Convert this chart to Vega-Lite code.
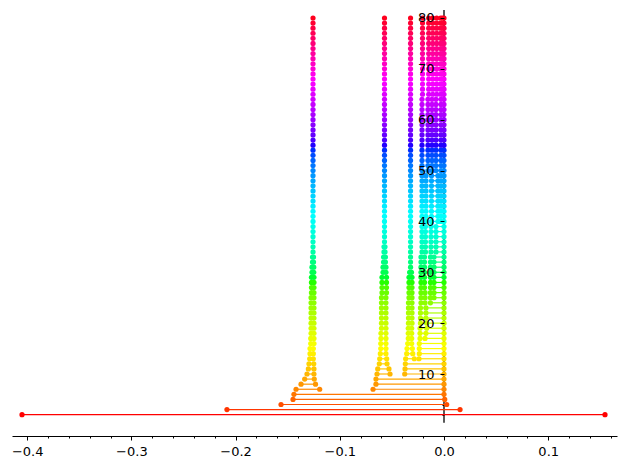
{
"$schema":"https://vega.github.io/schema/vega-lite/v6.json",
"width":605,"height":426,
"autosize":{"type":"none"},
"padding":{"left":12,"top":10,"right":10,"bottom":34},
"background":"white",
"config":{"view":{"stroke":null},"axis":{"grid":false,"title":null,"labelFont":"DejaVu Sans","labelFontSize":13,"labelColor":"black","tickColor":"black","domainColor":"black","tickWidth":1}},
"datasets":{
"spine":[{"x":0,"n":0.4,"n2":81.57}],
"roots":[
{"n":2,"s":5,"x":-0.405},{"n":2,"s":5,"x":0.1545},
{"n":3,"s":5,"x":-0.2083},{"n":3,"s":5,"x":0.0154},
{"n":4,"s":5,"x":-0.1564},{"n":4,"s":5,"x":0.0026},
{"n":5,"s":5,"x":-0.1449},{"n":5,"s":5,"x":0.0007},
{"n":6,"s":5,"x":-0.144},{"n":6,"s":5,"x":0},
{"n":7,"s":1,"x":-0.142},{"n":7,"s":1,"x":-0.1193},{"n":7,"s":5,"x":-0.0681},{"n":7,"s":5,"x":0},
{"n":8,"s":1,"x":-0.1372},{"n":8,"s":1,"x":-0.1233},{"n":8,"s":5,"x":-0.0653},{"n":8,"s":5,"x":0},
{"n":9,"s":1,"x":-0.1337},{"n":9,"s":1,"x":-0.1245},{"n":9,"s":5,"x":-0.0653},{"n":9,"s":5,"x":0},
{"n":10,"s":1,"x":-0.1315},{"n":10,"s":1,"x":-0.1248},{"n":10,"s":2,"x":-0.0643},{"n":10,"s":2,"x":-0.0518},{"n":10,"s":5,"x":-0.0377},{"n":10,"s":5,"x":0},
{"n":11,"s":1,"x":-0.1302},{"n":11,"s":1,"x":-0.1248},{"n":11,"s":2,"x":-0.0636},{"n":11,"s":2,"x":-0.0528},{"n":11,"s":5,"x":-0.0374},{"n":11,"s":5,"x":0},
{"n":12,"s":1,"x":-0.1296},{"n":12,"s":1,"x":-0.125},{"n":12,"s":2,"x":-0.0621},{"n":12,"s":2,"x":-0.0547},{"n":12,"s":5,"x":-0.0371},{"n":12,"s":5,"x":0},
{"n":13,"s":1,"x":-0.1289},{"n":13,"s":1,"x":-0.1254},{"n":13,"s":2,"x":-0.0617},{"n":13,"s":2,"x":-0.055},{"n":13,"s":3,"x":-0.0368},{"n":13,"s":3,"x":-0.0285},{"n":13,"s":5,"x":-0.024},{"n":13,"s":5,"x":0},
{"n":14,"s":1,"x":-0.1286},{"n":14,"s":1,"x":-0.1254},{"n":14,"s":2,"x":-0.0611},{"n":14,"s":2,"x":-0.0557},{"n":14,"s":3,"x":-0.0358},{"n":14,"s":3,"x":-0.03},{"n":14,"s":5,"x":-0.0237},{"n":14,"s":5,"x":0},
{"n":15,"s":1,"x":-0.1286},{"n":15,"s":1,"x":-0.1254},{"n":15,"s":2,"x":-0.0607},{"n":15,"s":2,"x":-0.0557},{"n":15,"s":3,"x":-0.0355},{"n":15,"s":3,"x":-0.0304},{"n":15,"s":5,"x":-0.0237},{"n":15,"s":5,"x":0},
{"n":16,"s":1,"x":-0.1279},{"n":16,"s":1,"x":-0.1248},{"n":16,"s":2,"x":-0.0607},{"n":16,"s":2,"x":-0.0557},{"n":16,"s":3,"x":-0.0348},{"n":16,"s":3,"x":-0.031},{"n":16,"s":5,"x":-0.0237},{"n":16,"s":5,"x":0},
{"n":17,"s":1,"x":-0.1279},{"n":17,"s":1,"x":-0.1248},{"n":17,"s":2,"x":-0.0605},{"n":17,"s":2,"x":-0.0557},{"n":17,"s":3,"x":-0.0343},{"n":17,"s":3,"x":-0.031},{"n":17,"s":5,"x":-0.023},{"n":17,"s":5,"x":-0.0182},{"n":17,"s":5,"x":0},
{"n":18,"s":1,"x":-0.1276},{"n":18,"s":1,"x":-0.1248},{"n":18,"s":2,"x":-0.0605},{"n":18,"s":2,"x":-0.0557},{"n":18,"s":3,"x":-0.0343},{"n":18,"s":3,"x":-0.031},{"n":18,"s":5,"x":-0.023},{"n":18,"s":5,"x":-0.0173},{"n":18,"s":5,"x":0},
{"n":19,"s":1,"x":-0.1276},{"n":19,"s":1,"x":-0.1248},{"n":19,"s":2,"x":-0.06},{"n":19,"s":2,"x":-0.0557},{"n":19,"s":3,"x":-0.0343},{"n":19,"s":3,"x":-0.031},{"n":19,"s":5,"x":-0.023},{"n":19,"s":5,"x":-0.0166},{"n":19,"s":5,"x":0},
{"n":20,"s":1,"x":-0.1276},{"n":20,"s":1,"x":-0.1248},{"n":20,"s":2,"x":-0.06},{"n":20,"s":2,"x":-0.0557},{"n":20,"s":3,"x":-0.0341},{"n":20,"s":3,"x":-0.0307},{"n":20,"s":5,"x":-0.0226},{"n":20,"s":5,"x":-0.0166},{"n":20,"s":5,"x":0},
{"n":21,"s":1,"x":-0.1276},{"n":21,"s":1,"x":-0.1248},{"n":21,"s":2,"x":-0.06},{"n":21,"s":2,"x":-0.0557},{"n":21,"s":3,"x":-0.0341},{"n":21,"s":3,"x":-0.0307},{"n":21,"s":5,"x":-0.0226},{"n":21,"s":5,"x":-0.0173},{"n":21,"s":5,"x":0},
{"n":22,"s":1,"x":-0.1276},{"n":22,"s":1,"x":-0.1248},{"n":22,"s":2,"x":-0.06},{"n":22,"s":2,"x":-0.0557},{"n":22,"s":3,"x":-0.0341},{"n":22,"s":3,"x":-0.0307},{"n":22,"s":5,"x":-0.0226},{"n":22,"s":5,"x":-0.0173},{"n":22,"s":5,"x":0},
{"n":23,"s":1,"x":-0.1276},{"n":23,"s":1,"x":-0.1248},{"n":23,"s":2,"x":-0.06},{"n":23,"s":2,"x":-0.0557},{"n":23,"s":3,"x":-0.0341},{"n":23,"s":3,"x":-0.0307},{"n":23,"s":5,"x":-0.0226},{"n":23,"s":5,"x":-0.0173},{"n":23,"s":5,"x":0},
{"n":24,"s":1,"x":-0.1276},{"n":24,"s":1,"x":-0.1248},{"n":24,"s":2,"x":-0.06},{"n":24,"s":2,"x":-0.0557},{"n":24,"s":3,"x":-0.0341},{"n":24,"s":3,"x":-0.0307},{"n":24,"s":4,"x":-0.0221},{"n":24,"s":4,"x":-0.0182},{"n":24,"s":5,"x":-0.013},{"n":24,"s":5,"x":0},
{"n":25,"s":1,"x":-0.1276},{"n":25,"s":1,"x":-0.1248},{"n":25,"s":2,"x":-0.06},{"n":25,"s":2,"x":-0.0557},{"n":25,"s":3,"x":-0.0336},{"n":25,"s":3,"x":-0.0307},{"n":25,"s":4,"x":-0.0221},{"n":25,"s":4,"x":-0.0182},{"n":25,"s":5,"x":-0.013},{"n":25,"s":5,"x":-0.0096},{"n":25,"s":5,"x":0},
{"n":26,"s":1,"x":-0.1272},{"n":26,"s":1,"x":-0.1248},{"n":26,"s":2,"x":-0.0595},{"n":26,"s":2,"x":-0.0552},{"n":26,"s":3,"x":-0.0336},{"n":26,"s":3,"x":-0.0307},{"n":26,"s":4,"x":-0.0221},{"n":26,"s":4,"x":-0.0182},{"n":26,"s":5,"x":-0.013},{"n":26,"s":5,"x":-0.0096},{"n":26,"s":5,"x":0},
{"n":27,"s":1,"x":-0.1272},{"n":27,"s":1,"x":-0.1248},{"n":27,"s":2,"x":-0.0595},{"n":27,"s":2,"x":-0.0552},{"n":27,"s":3,"x":-0.0336},{"n":27,"s":3,"x":-0.0307},{"n":27,"s":4,"x":-0.0221},{"n":27,"s":4,"x":-0.0187},{"n":27,"s":5,"x":-0.013},{"n":27,"s":5,"x":-0.0096},{"n":27,"s":5,"x":0},
{"n":28,"s":1,"x":-0.1272},{"n":28,"s":1,"x":-0.1248},{"n":28,"s":2,"x":-0.0595},{"n":28,"s":2,"x":-0.0552},{"n":28,"s":3,"x":-0.0336},{"n":28,"s":3,"x":-0.0307},{"n":28,"s":4,"x":-0.0221},{"n":28,"s":4,"x":-0.0187},{"n":28,"s":5,"x":-0.013},{"n":28,"s":5,"x":-0.0096},{"n":28,"s":5,"x":0},
{"n":29,"s":1,"x":-0.1272},{"n":29,"s":1,"x":-0.1248},{"n":29,"s":2,"x":-0.0595},{"n":29,"s":2,"x":-0.0552},{"n":29,"s":3,"x":-0.0336},{"n":29,"s":3,"x":-0.0307},{"n":29,"s":4,"x":-0.0221},{"n":29,"s":4,"x":-0.0187},{"n":29,"s":5,"x":-0.013},{"n":29,"s":5,"x":-0.0096},{"n":29,"s":5,"x":0},
{"n":30,"s":1,"x":-0.1267},{"n":30,"s":1,"x":-0.125},{"n":30,"s":2,"x":-0.0585},{"n":30,"s":2,"x":-0.0557},{"n":30,"s":3,"x":-0.033},{"n":30,"s":3,"x":-0.0312},{"n":30,"s":4,"x":-0.0221},{"n":30,"s":4,"x":-0.0187},{"n":30,"s":5,"x":-0.013},{"n":30,"s":5,"x":-0.0096},{"n":30,"s":5,"x":0},
{"n":31,"s":1,"x":-0.1267},{"n":31,"s":1,"x":-0.125},{"n":31,"s":2,"x":-0.0585},{"n":31,"s":2,"x":-0.0557},{"n":31,"s":3,"x":-0.0321},{"n":31,"s":4,"x":-0.0221},{"n":31,"s":4,"x":-0.0187},{"n":31,"s":5,"x":-0.013},{"n":31,"s":5,"x":-0.0096},{"n":31,"s":5,"x":0},
{"n":32,"s":1,"x":-0.1262},{"n":32,"s":1,"x":-0.1252},{"n":32,"s":2,"x":-0.058},{"n":32,"s":2,"x":-0.0562},{"n":32,"s":3,"x":-0.0321},{"n":32,"s":4,"x":-0.0221},{"n":32,"s":4,"x":-0.0187},{"n":32,"s":5,"x":-0.013},{"n":32,"s":5,"x":-0.0096},{"n":32,"s":5,"x":0},
{"n":33,"s":1,"x":-0.1262},{"n":33,"s":1,"x":-0.1252},{"n":33,"s":2,"x":-0.058},{"n":33,"s":2,"x":-0.0562},{"n":33,"s":3,"x":-0.0321},{"n":33,"s":4,"x":-0.0221},{"n":33,"s":4,"x":-0.0187},{"n":33,"s":5,"x":-0.013},{"n":33,"s":5,"x":-0.0096},{"n":33,"s":5,"x":0},
{"n":34,"s":1,"x":-0.1257},{"n":34,"s":2,"x":-0.0576},{"n":34,"s":2,"x":-0.0566},{"n":34,"s":3,"x":-0.0321},{"n":34,"s":4,"x":-0.0211},{"n":34,"s":4,"x":-0.0178},{"n":34,"s":5,"x":-0.0125},{"n":34,"s":5,"x":-0.0077},{"n":34,"s":5,"x":0},
{"n":35,"s":1,"x":-0.1257},{"n":35,"s":2,"x":-0.0576},{"n":35,"s":2,"x":-0.0566},{"n":35,"s":3,"x":-0.0321},{"n":35,"s":4,"x":-0.0211},{"n":35,"s":4,"x":-0.0178},{"n":35,"s":5,"x":-0.0125},{"n":35,"s":5,"x":-0.0077},{"n":35,"s":5,"x":0},
{"n":36,"s":1,"x":-0.1257},{"n":36,"s":2,"x":-0.0571},{"n":36,"s":3,"x":-0.0321},{"n":36,"s":4,"x":-0.0211},{"n":36,"s":4,"x":-0.0178},{"n":36,"s":5,"x":-0.0125},{"n":36,"s":5,"x":-0.0077},{"n":36,"s":5,"x":0},
{"n":37,"s":1,"x":-0.1257},{"n":37,"s":2,"x":-0.0571},{"n":37,"s":3,"x":-0.0321},{"n":37,"s":4,"x":-0.0211},{"n":37,"s":4,"x":-0.0178},{"n":37,"s":5,"x":-0.0125},{"n":37,"s":5,"x":-0.0077},{"n":37,"s":5,"x":0},
{"n":38,"s":1,"x":-0.1257},{"n":38,"s":2,"x":-0.0571},{"n":38,"s":3,"x":-0.0321},{"n":38,"s":4,"x":-0.0211},{"n":38,"s":4,"x":-0.0178},{"n":38,"s":5,"x":-0.0125},{"n":38,"s":5,"x":-0.0077},{"n":38,"s":5,"x":0},
{"n":39,"s":1,"x":-0.1257},{"n":39,"s":2,"x":-0.0571},{"n":39,"s":3,"x":-0.0321},{"n":39,"s":4,"x":-0.0211},{"n":39,"s":4,"x":-0.0178},{"n":39,"s":5,"x":-0.0125},{"n":39,"s":5,"x":-0.0077},{"n":39,"s":5,"x":0},
{"n":40,"s":1,"x":-0.1257},{"n":40,"s":2,"x":-0.0571},{"n":40,"s":3,"x":-0.0321},{"n":40,"s":4,"x":-0.0211},{"n":40,"s":4,"x":-0.0173},{"n":40,"s":5,"x":-0.012},{"n":40,"s":5,"x":-0.0058},{"n":40,"s":5,"x":-0.0029},{"n":40,"s":5,"x":0},
{"n":41,"s":1,"x":-0.1257},{"n":41,"s":2,"x":-0.0571},{"n":41,"s":3,"x":-0.0321},{"n":41,"s":4,"x":-0.0211},{"n":41,"s":4,"x":-0.0173},{"n":41,"s":5,"x":-0.012},{"n":41,"s":5,"x":-0.0058},{"n":41,"s":5,"x":-0.0029},{"n":41,"s":5,"x":0},
{"n":42,"s":1,"x":-0.1257},{"n":42,"s":2,"x":-0.0571},{"n":42,"s":3,"x":-0.0321},{"n":42,"s":4,"x":-0.0211},{"n":42,"s":4,"x":-0.0173},{"n":42,"s":5,"x":-0.012},{"n":42,"s":5,"x":-0.0058},{"n":42,"s":5,"x":-0.0029},{"n":42,"s":5,"x":0},
{"n":43,"s":1,"x":-0.1257},{"n":43,"s":2,"x":-0.0571},{"n":43,"s":3,"x":-0.0321},{"n":43,"s":4,"x":-0.0211},{"n":43,"s":4,"x":-0.0173},{"n":43,"s":5,"x":-0.012},{"n":43,"s":5,"x":-0.0058},{"n":43,"s":5,"x":-0.0029},{"n":43,"s":5,"x":0},
{"n":44,"s":1,"x":-0.1257},{"n":44,"s":2,"x":-0.0571},{"n":44,"s":3,"x":-0.0321},{"n":44,"s":4,"x":-0.0211},{"n":44,"s":4,"x":-0.0173},{"n":44,"s":5,"x":-0.012},{"n":44,"s":5,"x":-0.0058},{"n":44,"s":5,"x":-0.0029},{"n":44,"s":5,"x":0},
{"n":45,"s":1,"x":-0.1257},{"n":45,"s":2,"x":-0.0571},{"n":45,"s":3,"x":-0.0321},{"n":45,"s":4,"x":-0.0211},{"n":45,"s":4,"x":-0.0173},{"n":45,"s":5,"x":-0.012},{"n":45,"s":5,"x":-0.0058},{"n":45,"s":5,"x":-0.0029},{"n":45,"s":5,"x":0},
{"n":46,"s":1,"x":-0.1257},{"n":46,"s":2,"x":-0.0571},{"n":46,"s":3,"x":-0.0321},{"n":46,"s":4,"x":-0.0211},{"n":46,"s":4,"x":-0.0173},{"n":46,"s":5,"x":-0.012},{"n":46,"s":5,"x":-0.0058},{"n":46,"s":5,"x":-0.0029},{"n":46,"s":5,"x":0},
{"n":47,"s":1,"x":-0.1257},{"n":47,"s":2,"x":-0.0571},{"n":47,"s":3,"x":-0.0321},{"n":47,"s":4,"x":-0.0211},{"n":47,"s":4,"x":-0.0173},{"n":47,"s":5,"x":-0.012},{"n":47,"s":5,"x":-0.0058},{"n":47,"s":5,"x":-0.0029},{"n":47,"s":5,"x":0},
{"n":48,"s":1,"x":-0.1257},{"n":48,"s":2,"x":-0.0571},{"n":48,"s":3,"x":-0.0321},{"n":48,"s":4,"x":-0.0211},{"n":48,"s":4,"x":-0.0173},{"n":48,"s":5,"x":-0.012},{"n":48,"s":5,"x":-0.0058},{"n":48,"s":5,"x":-0.0029},{"n":48,"s":5,"x":0},
{"n":49,"s":1,"x":-0.1257},{"n":49,"s":2,"x":-0.0571},{"n":49,"s":3,"x":-0.0321},{"n":49,"s":4,"x":-0.0211},{"n":49,"s":4,"x":-0.0173},{"n":49,"s":5,"x":-0.012},{"n":49,"s":5,"x":-0.0058},{"n":49,"s":5,"x":-0.0029},{"n":49,"s":5,"x":0},
{"n":50,"s":1,"x":-0.1257},{"n":50,"s":2,"x":-0.0571},{"n":50,"s":3,"x":-0.0321},{"n":50,"s":4,"x":-0.0211},{"n":50,"s":5,"x":-0.0154},{"n":50,"s":5,"x":-0.0115},{"n":50,"s":5,"x":-0.0077},{"n":50,"s":5,"x":-0.0029},{"n":50,"s":5,"x":0},
{"n":51,"s":1,"x":-0.1257},{"n":51,"s":2,"x":-0.0571},{"n":51,"s":3,"x":-0.0321},{"n":51,"s":4,"x":-0.0211},{"n":51,"s":5,"x":-0.0154},{"n":51,"s":5,"x":-0.0115},{"n":51,"s":5,"x":-0.0077},{"n":51,"s":5,"x":-0.0029},{"n":51,"s":5,"x":0},
{"n":52,"s":1,"x":-0.1257},{"n":52,"s":2,"x":-0.0571},{"n":52,"s":3,"x":-0.0321},{"n":52,"s":4,"x":-0.0211},{"n":52,"s":5,"x":-0.0154},{"n":52,"s":5,"x":-0.0115},{"n":52,"s":5,"x":-0.0077},{"n":52,"s":5,"x":-0.0029},{"n":52,"s":5,"x":0},
{"n":53,"s":1,"x":-0.1257},{"n":53,"s":2,"x":-0.0571},{"n":53,"s":3,"x":-0.0321},{"n":53,"s":4,"x":-0.0211},{"n":53,"s":5,"x":-0.0154},{"n":53,"s":5,"x":-0.0115},{"n":53,"s":5,"x":-0.0077},{"n":53,"s":5,"x":-0.0029},{"n":53,"s":5,"x":0},
{"n":54,"s":1,"x":-0.1257},{"n":54,"s":2,"x":-0.0571},{"n":54,"s":3,"x":-0.0321},{"n":54,"s":4,"x":-0.0211},{"n":54,"s":5,"x":-0.0154},{"n":54,"s":5,"x":-0.0115},{"n":54,"s":5,"x":-0.0077},{"n":54,"s":5,"x":-0.0029},{"n":54,"s":5,"x":0},
{"n":55,"s":1,"x":-0.1257},{"n":55,"s":2,"x":-0.0571},{"n":55,"s":3,"x":-0.0321},{"n":55,"s":4,"x":-0.0211},{"n":55,"s":5,"x":-0.0154},{"n":55,"s":5,"x":-0.0115},{"n":55,"s":5,"x":-0.0077},{"n":55,"s":5,"x":-0.0029},{"n":55,"s":5,"x":0},
{"n":56,"s":1,"x":-0.1257},{"n":56,"s":2,"x":-0.0571},{"n":56,"s":3,"x":-0.0321},{"n":56,"s":4,"x":-0.0211},{"n":56,"s":5,"x":-0.0154},{"n":56,"s":5,"x":-0.0115},{"n":56,"s":5,"x":-0.0077},{"n":56,"s":5,"x":-0.0029},{"n":56,"s":5,"x":0},
{"n":57,"s":1,"x":-0.1257},{"n":57,"s":2,"x":-0.0571},{"n":57,"s":3,"x":-0.0321},{"n":57,"s":4,"x":-0.0211},{"n":57,"s":5,"x":-0.0154},{"n":57,"s":5,"x":-0.0115},{"n":57,"s":5,"x":-0.0077},{"n":57,"s":5,"x":-0.0029},{"n":57,"s":5,"x":0},
{"n":58,"s":1,"x":-0.1257},{"n":58,"s":2,"x":-0.0571},{"n":58,"s":3,"x":-0.0321},{"n":58,"s":4,"x":-0.0211},{"n":58,"s":5,"x":-0.0154},{"n":58,"s":5,"x":-0.0115},{"n":58,"s":5,"x":-0.0077},{"n":58,"s":5,"x":-0.0029},{"n":58,"s":5,"x":0},
{"n":59,"s":1,"x":-0.1257},{"n":59,"s":2,"x":-0.0571},{"n":59,"s":3,"x":-0.0321},{"n":59,"s":4,"x":-0.0211},{"n":59,"s":5,"x":-0.0154},{"n":59,"s":5,"x":-0.0115},{"n":59,"s":5,"x":-0.0077},{"n":59,"s":5,"x":-0.0029},{"n":59,"s":5,"x":0},
{"n":60,"s":1,"x":-0.1257},{"n":60,"s":2,"x":-0.0571},{"n":60,"s":3,"x":-0.0321},{"n":60,"s":4,"x":-0.0211},{"n":60,"s":5,"x":-0.0154},{"n":60,"s":5,"x":-0.0115},{"n":60,"s":5,"x":-0.0077},{"n":60,"s":5,"x":-0.0029},{"n":60,"s":5,"x":0},
{"n":61,"s":1,"x":-0.1257},{"n":61,"s":2,"x":-0.0571},{"n":61,"s":3,"x":-0.0321},{"n":61,"s":4,"x":-0.0211},{"n":61,"s":5,"x":-0.0154},{"n":61,"s":5,"x":-0.0115},{"n":61,"s":5,"x":-0.0077},{"n":61,"s":5,"x":-0.0029},{"n":61,"s":5,"x":0},
{"n":62,"s":1,"x":-0.1257},{"n":62,"s":2,"x":-0.0571},{"n":62,"s":3,"x":-0.0321},{"n":62,"s":4,"x":-0.0211},{"n":62,"s":5,"x":-0.0154},{"n":62,"s":5,"x":-0.0115},{"n":62,"s":5,"x":-0.0077},{"n":62,"s":5,"x":-0.0029},{"n":62,"s":5,"x":0},
{"n":63,"s":1,"x":-0.1257},{"n":63,"s":2,"x":-0.0571},{"n":63,"s":3,"x":-0.0321},{"n":63,"s":4,"x":-0.0211},{"n":63,"s":5,"x":-0.0154},{"n":63,"s":5,"x":-0.0115},{"n":63,"s":5,"x":-0.0077},{"n":63,"s":5,"x":-0.0029},{"n":63,"s":5,"x":0},
{"n":64,"s":1,"x":-0.1257},{"n":64,"s":2,"x":-0.0571},{"n":64,"s":3,"x":-0.0321},{"n":64,"s":4,"x":-0.0211},{"n":64,"s":5,"x":-0.0154},{"n":64,"s":5,"x":-0.0115},{"n":64,"s":5,"x":-0.0077},{"n":64,"s":5,"x":-0.0029},{"n":64,"s":5,"x":0},
{"n":65,"s":1,"x":-0.1257},{"n":65,"s":2,"x":-0.0571},{"n":65,"s":3,"x":-0.0321},{"n":65,"s":4,"x":-0.0206},{"n":65,"s":5,"x":-0.0147},{"n":65,"s":5,"x":-0.0108},{"n":65,"s":5,"x":-0.007},{"n":65,"s":5,"x":-0.0032},{"n":65,"s":5,"x":-0.0014},{"n":65,"s":5,"x":0},
{"n":66,"s":1,"x":-0.1257},{"n":66,"s":2,"x":-0.0571},{"n":66,"s":3,"x":-0.0321},{"n":66,"s":4,"x":-0.0206},{"n":66,"s":5,"x":-0.0147},{"n":66,"s":5,"x":-0.0108},{"n":66,"s":5,"x":-0.007},{"n":66,"s":5,"x":-0.0032},{"n":66,"s":5,"x":-0.0014},{"n":66,"s":5,"x":0},
{"n":67,"s":1,"x":-0.1257},{"n":67,"s":2,"x":-0.0571},{"n":67,"s":3,"x":-0.0321},{"n":67,"s":4,"x":-0.0206},{"n":67,"s":5,"x":-0.0147},{"n":67,"s":5,"x":-0.0108},{"n":67,"s":5,"x":-0.007},{"n":67,"s":5,"x":-0.0032},{"n":67,"s":5,"x":-0.0014},{"n":67,"s":5,"x":0},
{"n":68,"s":1,"x":-0.1257},{"n":68,"s":2,"x":-0.0571},{"n":68,"s":3,"x":-0.0321},{"n":68,"s":4,"x":-0.0206},{"n":68,"s":5,"x":-0.0147},{"n":68,"s":5,"x":-0.0108},{"n":68,"s":5,"x":-0.007},{"n":68,"s":5,"x":-0.0032},{"n":68,"s":5,"x":-0.0014},{"n":68,"s":5,"x":0},
{"n":69,"s":1,"x":-0.1257},{"n":69,"s":2,"x":-0.0571},{"n":69,"s":3,"x":-0.0321},{"n":69,"s":4,"x":-0.0206},{"n":69,"s":5,"x":-0.0147},{"n":69,"s":5,"x":-0.0108},{"n":69,"s":5,"x":-0.007},{"n":69,"s":5,"x":-0.0032},{"n":69,"s":5,"x":-0.0014},{"n":69,"s":5,"x":0},
{"n":70,"s":1,"x":-0.1257},{"n":70,"s":2,"x":-0.0571},{"n":70,"s":3,"x":-0.0321},{"n":70,"s":4,"x":-0.0206},{"n":70,"s":5,"x":-0.0147},{"n":70,"s":5,"x":-0.0108},{"n":70,"s":5,"x":-0.007},{"n":70,"s":5,"x":-0.0032},{"n":70,"s":5,"x":-0.0014},{"n":70,"s":5,"x":0},
{"n":71,"s":1,"x":-0.1257},{"n":71,"s":2,"x":-0.0571},{"n":71,"s":3,"x":-0.0321},{"n":71,"s":4,"x":-0.0206},{"n":71,"s":5,"x":-0.0147},{"n":71,"s":5,"x":-0.0108},{"n":71,"s":5,"x":-0.007},{"n":71,"s":5,"x":-0.0032},{"n":71,"s":5,"x":-0.0014},{"n":71,"s":5,"x":0},
{"n":72,"s":1,"x":-0.1257},{"n":72,"s":2,"x":-0.0571},{"n":72,"s":3,"x":-0.0321},{"n":72,"s":4,"x":-0.0206},{"n":72,"s":5,"x":-0.0147},{"n":72,"s":5,"x":-0.0108},{"n":72,"s":5,"x":-0.007},{"n":72,"s":5,"x":-0.0032},{"n":72,"s":5,"x":-0.0014},{"n":72,"s":5,"x":0},
{"n":73,"s":1,"x":-0.1257},{"n":73,"s":2,"x":-0.0571},{"n":73,"s":3,"x":-0.0321},{"n":73,"s":4,"x":-0.0206},{"n":73,"s":5,"x":-0.0147},{"n":73,"s":5,"x":-0.0108},{"n":73,"s":5,"x":-0.007},{"n":73,"s":5,"x":-0.0032},{"n":73,"s":5,"x":-0.0014},{"n":73,"s":5,"x":0},
{"n":74,"s":1,"x":-0.1257},{"n":74,"s":2,"x":-0.0571},{"n":74,"s":3,"x":-0.0321},{"n":74,"s":4,"x":-0.0206},{"n":74,"s":5,"x":-0.0147},{"n":74,"s":5,"x":-0.0108},{"n":74,"s":5,"x":-0.007},{"n":74,"s":5,"x":-0.0032},{"n":74,"s":5,"x":-0.0014},{"n":74,"s":5,"x":0},
{"n":75,"s":1,"x":-0.1257},{"n":75,"s":2,"x":-0.0571},{"n":75,"s":3,"x":-0.0321},{"n":75,"s":4,"x":-0.0206},{"n":75,"s":5,"x":-0.0147},{"n":75,"s":5,"x":-0.0108},{"n":75,"s":5,"x":-0.007},{"n":75,"s":5,"x":-0.0032},{"n":75,"s":5,"x":-0.0014},{"n":75,"s":5,"x":0},
{"n":76,"s":1,"x":-0.1257},{"n":76,"s":2,"x":-0.0571},{"n":76,"s":3,"x":-0.0321},{"n":76,"s":4,"x":-0.0206},{"n":76,"s":5,"x":-0.0147},{"n":76,"s":5,"x":-0.0108},{"n":76,"s":5,"x":-0.007},{"n":76,"s":5,"x":-0.0032},{"n":76,"s":5,"x":-0.0014},{"n":76,"s":5,"x":0},
{"n":77,"s":1,"x":-0.1257},{"n":77,"s":2,"x":-0.0571},{"n":77,"s":3,"x":-0.0321},{"n":77,"s":4,"x":-0.0206},{"n":77,"s":5,"x":-0.0147},{"n":77,"s":5,"x":-0.0108},{"n":77,"s":5,"x":-0.007},{"n":77,"s":5,"x":-0.0032},{"n":77,"s":5,"x":-0.0014},{"n":77,"s":5,"x":0},
{"n":78,"s":1,"x":-0.1257},{"n":78,"s":2,"x":-0.0571},{"n":78,"s":3,"x":-0.0321},{"n":78,"s":4,"x":-0.0206},{"n":78,"s":5,"x":-0.0147},{"n":78,"s":5,"x":-0.0108},{"n":78,"s":5,"x":-0.007},{"n":78,"s":5,"x":-0.0032},{"n":78,"s":5,"x":-0.0014},{"n":78,"s":5,"x":0},
{"n":79,"s":1,"x":-0.1257},{"n":79,"s":2,"x":-0.0571},{"n":79,"s":3,"x":-0.0321},{"n":79,"s":4,"x":-0.0206},{"n":79,"s":5,"x":-0.0147},{"n":79,"s":5,"x":-0.0108},{"n":79,"s":5,"x":-0.007},{"n":79,"s":5,"x":-0.0032},{"n":79,"s":5,"x":-0.0014},{"n":79,"s":5,"x":0},
{"n":80,"s":1,"x":-0.1257},{"n":80,"s":2,"x":-0.0571},{"n":80,"s":3,"x":-0.0321},{"n":80,"s":4,"x":-0.0206},{"n":80,"s":5,"x":-0.0147},{"n":80,"s":5,"x":-0.0108},{"n":80,"s":5,"x":-0.007},{"n":80,"s":5,"x":-0.0032},{"n":80,"s":5,"x":-0.0014},{"n":80,"s":5,"x":0}
]},
"resolve":{"axis":{"x":"independent","y":"independent"}},
"layer":[
{"data":{"name":"spine"},
 "mark":{"type":"rule","color":"black","strokeWidth":1.3},
 "encoding":{
  "x":{"field":"x","type":"quantitative","scale":{"domain":[-0.414587,0.166027],"nice":false,"zero":false},"axis":null},
  "y":{"field":"n","type":"quantitative","scale":{"domain":[-2.19,81.57],"nice":false,"zero":false},"axis":null},
  "y2":{"field":"n2"}}},
{"data":{"name":"roots"},
 "mark":{"type":"line","strokeWidth":1.2},
 "encoding":{
  "x":{"field":"x","type":"quantitative","scale":{"domain":[-0.414587,0.166027],"nice":false,"zero":false},
   "axis":{"orient":"bottom","values":[-0.4,-0.3,-0.2,-0.1,0,0.1],"format":".1f","tickSize":4,"labelPadding":5,"domain":true}},
  "y":{"field":"n","type":"quantitative","scale":{"domain":[-2.19,81.57],"nice":false,"zero":false},
   "axis":{"orient":"left","values":[10,20,30,40,50,60,70,80],"format":"d","tickSize":4,"labelPadding":6,"domain":false,"offset":-432,"zindex":1}},
  "detail":[{"field":"n"},{"field":"s"}],
  "color":{"field":"n","type":"quantitative","legend":null,"scale":{"type":"linear","domain":[2,15.17,28.33,41.5,54.67,67.83,81],"range":["#ff0000","#ffff00","#00ff00","#00ffff","#0000ff","#ff00ff","#ff0000"]}}}},
{"data":{"name":"roots"},
 "mark":{"type":"circle","size":27,"opacity":1},
 "encoding":{
  "x":{"field":"x","type":"quantitative","scale":{"domain":[-0.414587,0.166027],"nice":false,"zero":false},
   "axis":{"orient":"bottom","values":[-0.4,-0.38,-0.36,-0.34,-0.32,-0.3,-0.28,-0.26,-0.24,-0.22,-0.2,-0.18,-0.16,-0.14,-0.12,-0.1,-0.08,-0.06,-0.04,-0.02,0,0.02,0.04,0.06,0.08,0.1,0.12,0.14,0.16],"labels":false,"tickSize":2,"domain":false}},
  "y":{"field":"n","type":"quantitative","scale":{"domain":[-2.19,81.57],"nice":false,"zero":false},
   "axis":{"orient":"left","values":[2,4,6,8,10,12,14,16,18,20,22,24,26,28,30,32,34,36,38,40,42,44,46,48,50,52,54,56,58,60,62,64,66,68,70,72,74,76,78,80],"labels":false,"tickSize":2,"domain":false,"offset":-432}},
  "color":{"field":"n","type":"quantitative","legend":null,"scale":{"type":"linear","domain":[2,15.17,28.33,41.5,54.67,67.83,81],"range":["#ff0000","#ffff00","#00ff00","#00ffff","#0000ff","#ff00ff","#ff0000"]}}}}
]
}
